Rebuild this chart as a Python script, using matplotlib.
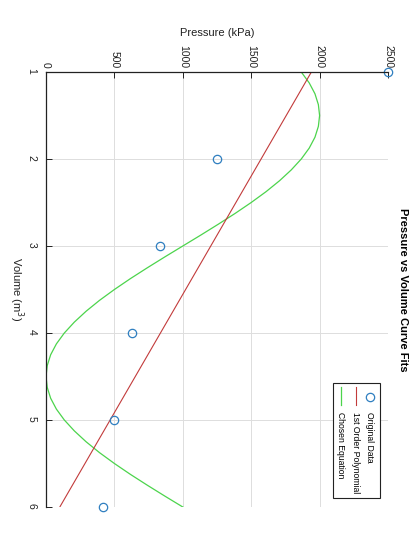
import matplotlib
matplotlib.use("Agg")
import matplotlib.pyplot as plt
from matplotlib.patches import Rectangle

plt.rcParams['font.family'] = ['Liberation Sans', 'DejaVu Sans']

# measured data (volume in m^3, pressure in kPa)
volume = [1, 2, 3, 4, 5, 6]
pressure = [2500, 1250, 833, 625, 500, 417]

# 1st order polynomial, read at its two ends
lin_volume = [1, 6]
lin_pressure = [1940, 101]

# chosen equation, every 0.125 m^3
eq_volume = [1, 1.125, 1.25, 1.375, 1.5, 1.625, 1.75, 1.875, 2, 2.125, 2.25,
             2.375, 2.5, 2.625, 2.75, 2.875, 3, 3.125, 3.25, 3.375, 3.5,
             3.625, 3.75, 3.875, 4, 4.125, 4.25, 4.375, 4.5, 4.625, 4.75,
             4.875, 5, 5.125, 5.25, 5.375, 5.5, 5.625, 5.75, 5.875, 6]
eq_pressure = [1866, 1924, 1966, 1991, 2000, 1991, 1966, 1924, 1866, 1793, 1707,
               1609, 1500, 1383, 1259, 1131, 1000, 869, 741, 617, 500,
               391, 293, 207, 134, 76, 34, 9, 0, 9, 34,
               76, 134, 207, 293, 391, 500, 617, 741, 869, 1000]

p_ticks = [0, 500, 1000, 1500, 2000, 2500]
v_ticks = [1, 2, 3, 4, 5, 6]
labels = ['Original Data', '1st Order Polynomial', 'Chosen Equation']

blue = '#2f7fc0'
red = '#c23b3b'
green = '#4cd44c'

fig = plt.figure(figsize=(4.2, 5.6), dpi=100)
ax = fig.add_axes([46/420, 53/560, 342/420, 435/560])

# the whole chart is turned a quarter turn clockwise:
# pressure runs along the top, volume runs down the left side
ax.plot(eq_pressure, eq_volume, color=green, lw=0.9)
ax.plot(lin_pressure, lin_volume, color=red, lw=0.8)
ax.plot(pressure, volume, 'o', mfc='none', mec=blue, ms=6, mew=0.9, clip_on=False)

ax.set_xlim(0, 2500)
ax.set_ylim(6, 1)
ax.set_xticks(p_ticks)
ax.set_yticks(v_ticks)
ax.grid(True, color='#dddddd', lw=0.7)
ax.set_axisbelow(True)
for s in ['right', 'bottom']:
    ax.spines[s].set_visible(False)
for s in ['top', 'left']:
    ax.spines[s].set_color('#222222')
    ax.spines[s].set_linewidth(0.9)

ax.xaxis.tick_top()
ax.tick_params(axis='x', direction='in', length=4, width=0.7, labelsize=7.5,
               labelrotation=-90, pad=3, colors='#222222')
ax.tick_params(axis='y', direction='in', length=4, width=0.7, labelsize=7.5,
               labelrotation=-90, pad=7, colors='#222222')

ax.xaxis.set_label_position('top')
ax.set_xlabel('Pressure (kPa)', fontsize=8, color='#222222', labelpad=6)
ax.set_ylabel('Volume (m$^3$)', fontsize=8, color='#222222', rotation=-90,
              va='top', labelpad=0.5)
ax.text(1.044, 0.5, 'Pressure vs Volume Curve Fits', transform=ax.transAxes,
        rotation=-90, ha='center', va='center', fontsize=8, fontweight='bold')

# legend, turned like the rest of the chart
ax.add_patch(Rectangle((0.839, 0.020), 0.138, 0.266, transform=ax.transAxes,
                       fc='white', ec='#222222', lw=0.8, zorder=5))
cols = [0.947, 0.906, 0.862]
ax.plot([cols[0]], [0.253], 'o', mfc='none', mec=blue, ms=6, mew=0.9,
        transform=ax.transAxes, zorder=6)
ax.plot([cols[1], cols[1]], [0.276, 0.235], color=red, lw=0.8,
        transform=ax.transAxes, zorder=6)
ax.plot([cols[2], cols[2]], [0.276, 0.235], color=green, lw=0.9,
        transform=ax.transAxes, zorder=6)
for c, lab in zip(cols, labels):
    ax.text(c, 0.218, lab, transform=ax.transAxes, rotation=-90,
            ha='center', va='top', fontsize=6.2, zorder=6)

fig.savefig('out.png', dpi=100)
